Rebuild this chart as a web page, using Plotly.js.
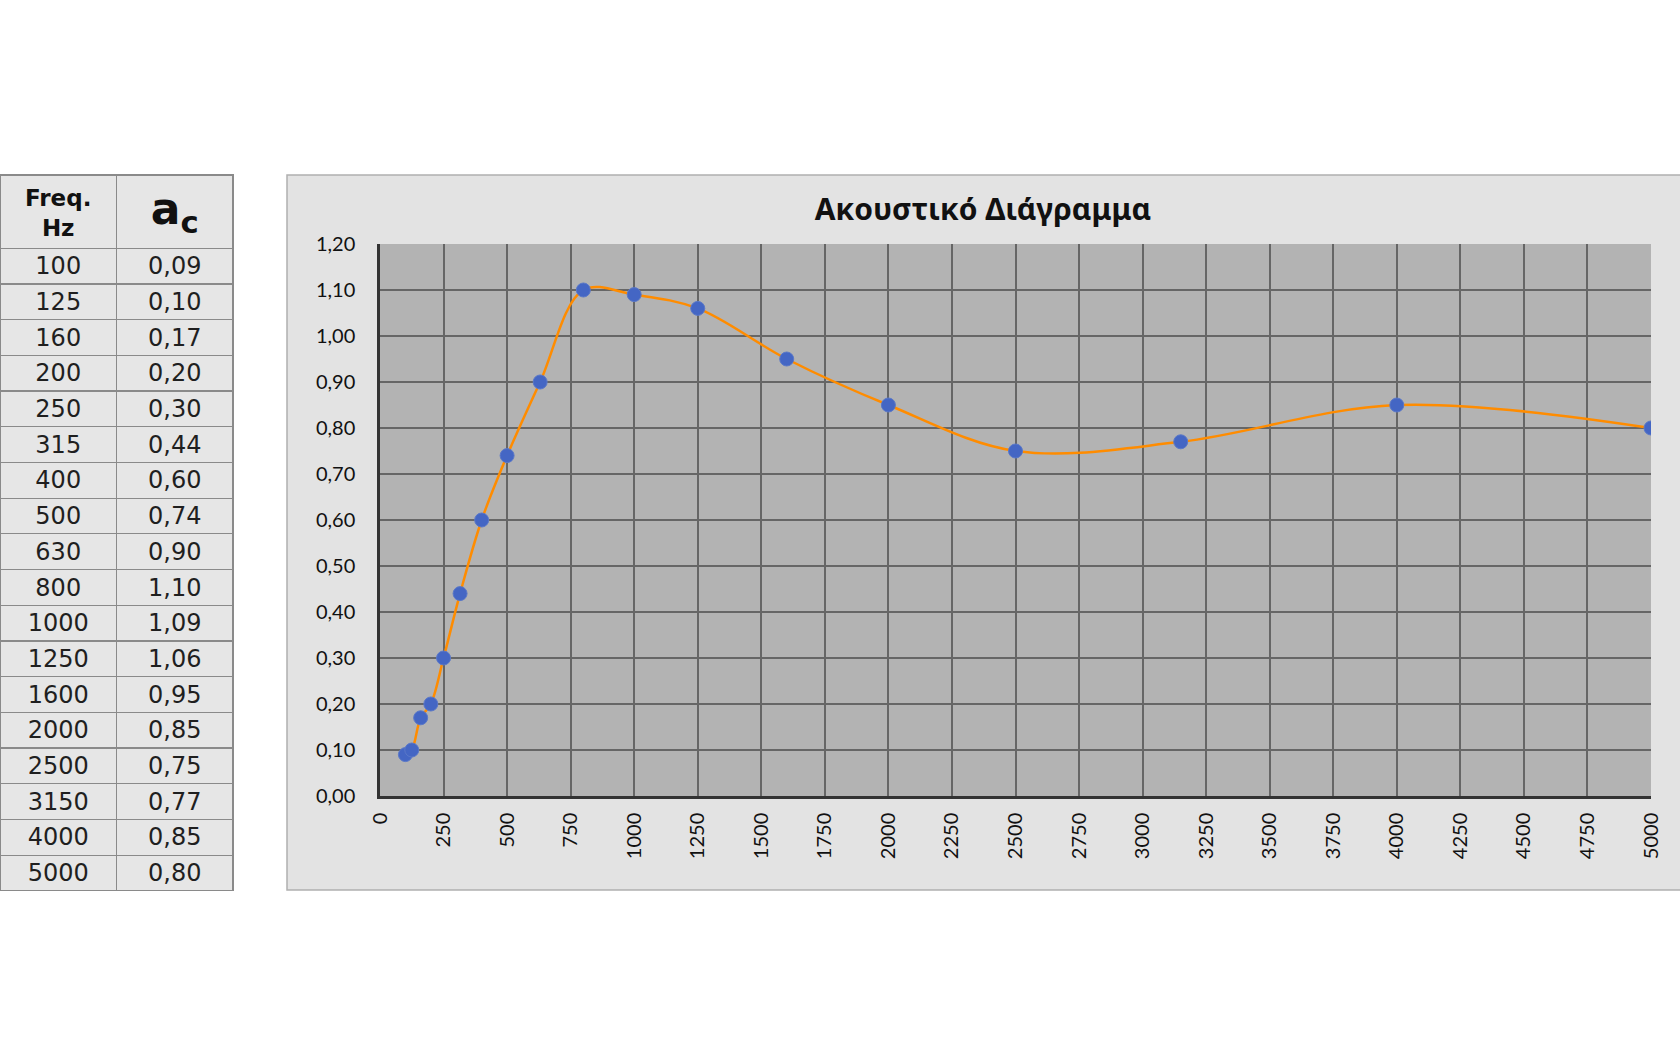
<!DOCTYPE html>
<html>
<head>
<meta charset="utf-8">
<script src="https://cdn.plot.ly/plotly-3.0.1.min.js"></script>
<style>
  html, body { margin: 0; padding: 0; background: #ffffff; }
  #chart { width: 1680px; height: 1050px; }
</style>
</head>
<body>
<div id="chart"></div>
<script>
// Данные
const freqHz = [100, 125, 160, 200, 250, 315, 400, 500, 630, 800, 1000, 1250, 1600, 2000, 2500, 3150, 4000, 5000];
const absorption = [0.09, 0.10, 0.17, 0.20, 0.30, 0.44, 0.60, 0.74, 0.90, 1.10, 1.09, 1.06, 0.95, 0.85, 0.75, 0.77, 0.85, 0.80];
const absorptionLabels = ["0,09", "0,10", "0,17", "0,20", "0,30", "0,44", "0,60", "0,74", "0,90", "1,10", "1,09", "1,06", "0,95", "0,85", "0,75", "0,77", "0,85", "0,80"];
const freqHeader = "<b>Freq.<br>Hz</b>";
const coefHeader = "<b>a<sub>c</sub></b>";
const chartTitle = "Ακουστικό Διάγραμμα";

// Размеры страницы
const W = 1680;
const H = 1050;
const px = (v) => v / W;
const py = (v) => 1 - v / H;

// Таблица слева (заголовок первой колонки — отдельной аннотацией,
// т.к. таблица не центрирует строки многострочного текста)
const tableTrace = {
  type: "table",
  domain: { x: [0, px(233)], y: [py(900), py(175)] },
  columnwidth: [1, 1],
  header: {
    values: ["", coefHeader],
    height: 71,
    align: "center",
    fill: { color: "#e6e6e6" },
    line: { color: "#8a8a8a", width: 1.2 },
    font: { family: "DejaVu Sans", size: 44, color: "#111111" },
  },
  cells: {
    values: [freqHz.map(String), absorptionLabels],
    height: 35.7,
    align: "center",
    fill: { color: "#e6e6e6" },
    line: { color: "#8a8a8a", width: 1.2 },
    font: { family: "DejaVu Sans", size: 24, color: "#1f1f1f" },
  },
};

// Кривая
const curveTrace = {
  type: "scatter",
  mode: "lines+markers",
  x: freqHz,
  y: absorption,
  line: { color: "#ff8c00", width: 2.5, shape: "spline", smoothing: 1 },
  marker: { color: "#4466c4", size: 14, line: { color: "#5a78c8", width: 1 } },
  hoverinfo: "x+y",
  showlegend: false,
  xaxis: "x",
  yaxis: "y",
};

const tickFont = { family: "Lato", size: 20, color: "#111111" };

const layout = {
  width: W,
  height: H,
  margin: { l: 0, r: 0, t: 0, b: 0, pad: 0 },
  paper_bgcolor: "#ffffff",
  plot_bgcolor: "rgba(0,0,0,0)",
  separators: ",.",
  showlegend: false,
  title: {
    text: "<b>" + chartTitle + "</b>",
    x: px(983),
    y: py(209),
    xref: "paper",
    yref: "paper",
    xanchor: "center",
    yanchor: "middle",
    font: { family: "Noto Sans", size: 30, color: "#111111" },
  },
  xaxis: {
    domain: [px(380), px(1651)],
    range: [0, 5000],
    dtick: 250,
    tick0: 0,
    tickformat: "d",
    tickangle: -90,
    ticks: "outside",
    ticklen: 6,
    tickcolor: "rgba(0,0,0,0)",
    tickfont: tickFont,
    showgrid: true,
    gridcolor: "#666666",
    gridwidth: 1.5,
    showline: true,
    linecolor: "#333333",
    linewidth: 2.5,
    zeroline: false,
    fixedrange: true,
  },
  yaxis: {
    domain: [py(796), py(244)],
    range: [0, 1.2],
    dtick: 0.1,
    tick0: 0,
    tickformat: ".2f",
    ticks: "outside",
    ticklen: 18,
    tickcolor: "rgba(0,0,0,0)",
    tickfont: tickFont,
    showgrid: true,
    gridcolor: "#666666",
    gridwidth: 1.5,
    showline: true,
    linecolor: "#333333",
    linewidth: 2.5,
    zeroline: false,
    fixedrange: true,
  },
  annotations: [
    {
      text: freqHeader,
      xref: "paper",
      yref: "paper",
      x: px(58),
      y: py(213),
      xanchor: "center",
      yanchor: "middle",
      align: "center",
      showarrow: false,
      font: { family: "DejaVu Sans", size: 23, color: "#111111" },
    },
  ],
  shapes: [
    // Фон панели графика
    {
      type: "rect",
      xref: "paper",
      yref: "paper",
      x0: px(287),
      x1: px(1685),
      y0: py(890),
      y1: py(175),
      fillcolor: "#e3e3e3",
      line: { color: "#b0b0b0", width: 1.5 },
      layer: "below",
    },
    // Фон области построения
    {
      type: "rect",
      xref: "x domain",
      yref: "y domain",
      x0: 0,
      x1: 1,
      y0: 0,
      y1: 1,
      fillcolor: "#b3b3b3",
      line: { width: 0 },
      layer: "below",
    },
  ],
};

const config = { displayModeBar: false, responsive: false };

Plotly.newPlot("chart", [tableTrace, curveTrace], layout, config);
</script>
</body>
</html>
